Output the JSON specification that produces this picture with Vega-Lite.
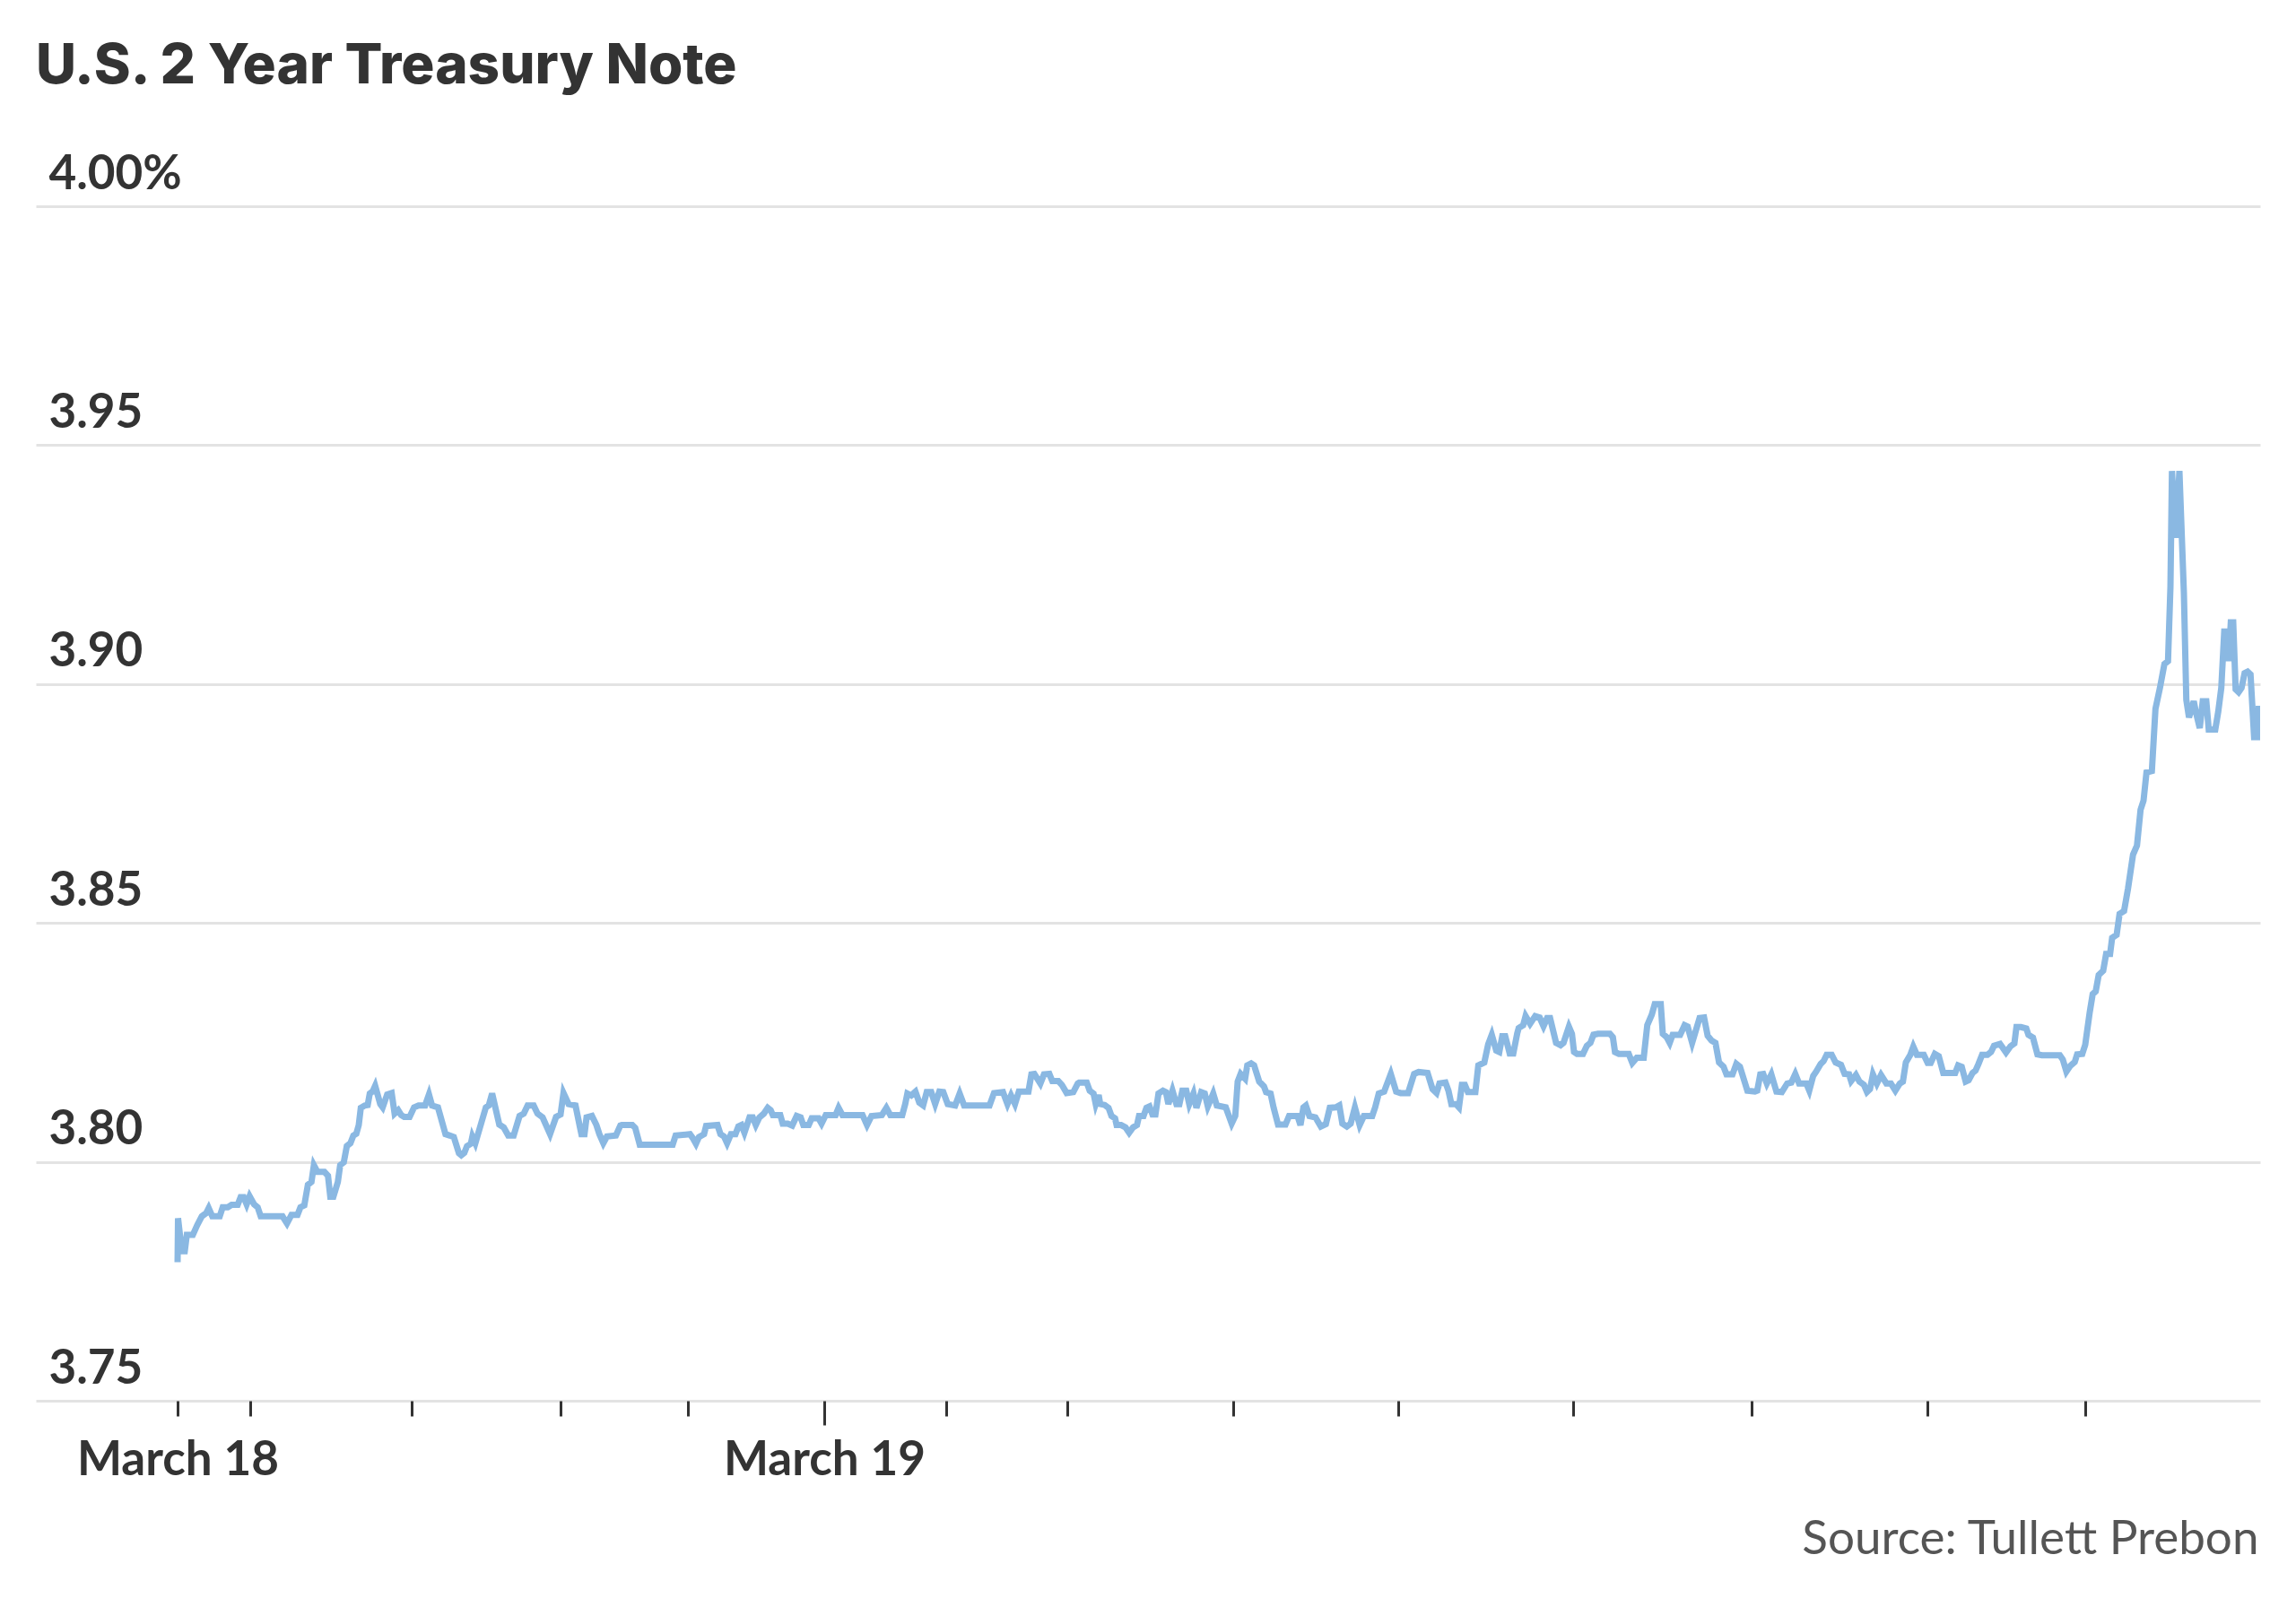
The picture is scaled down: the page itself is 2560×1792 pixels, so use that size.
{
  "$schema": "https://vega.github.io/schema/vega-lite/v6.json",
  "width": 2480,
  "height": 1332,
  "autosize": {"type": "none"},
  "padding": {"left": 40, "top": 230, "right": 40, "bottom": 230},
  "background": "white",
  "title": {
    "text": "U.S. 2 Year Treasury Note",
    "anchor": "start",
    "frame": "group",
    "font": "Inter",
    "fontSize": 62,
    "fontWeight": 800,
    "color": "#333333",
    "offset": 62
  },
  "config": {
    "view": {"stroke": null},
    "axis": {"labelFont": "Lato", "titleFont": "Lato"}
  },
  "data": {
    "values": [
      {"i":0,"v":3.7790},{"i":0.5,"v":3.7882},{"i":4.7,"v":3.7813},{"i":8,"v":3.7813},{"i":10.3,"v":3.7847},{"i":17,"v":3.7847},{"i":22,"v":3.7868},{"i":27,"v":3.7886},{"i":32,"v":3.7893},{"i":34.7,"v":3.7903},{"i":38.7,"v":3.7886},{"i":47,"v":3.7886},{"i":50.3,"v":3.7905},{"i":56,"v":3.7905},{"i":60.3,"v":3.7910},{"i":67,"v":3.7910},{"i":70.3,"v":3.7926},{"i":73.7,"v":3.7926},{"i":77,"v":3.7911},{"i":80.3,"v":3.7928},{"i":85.3,"v":3.7911},{"i":89.3,"v":3.7905},{"i":92.7,"v":3.7886},{"i":117,"v":3.7886},{"i":122,"v":3.7871},{"i":127,"v":3.7889},{"i":133.7,"v":3.7889},{"i":137,"v":3.7905},{"i":141.3,"v":3.7909},{"i":145.3,"v":3.7952},{"i":149.3,"v":3.7958},{"i":152,"v":3.7993},{"i":156,"v":3.7979},{"i":163.7,"v":3.7979},{"i":167.7,"v":3.7971},{"i":170.3,"v":3.7927},{"i":173.7,"v":3.7927},{"i":178.7,"v":3.7958},{"i":181.3,"v":3.7993},{"i":185.3,"v":3.7999},{"i":188.7,"v":3.8033},{"i":192.7,"v":3.8039},{"i":196,"v":3.8055},{"i":199.3,"v":3.8059},{"i":202,"v":3.8077},{"i":204.3,"v":3.8113},{"i":208.7,"v":3.8118},{"i":212,"v":3.8119},{"i":214.3,"v":3.8143},{"i":217.7,"v":3.8148},{"i":220.3,"v":3.8159},{"i":226,"v":3.8121},{"i":228.7,"v":3.8114},{"i":233.7,"v":3.8141},{"i":238.7,"v":3.8144},{"i":242,"v":3.8101},{"i":246,"v":3.8108},{"i":249.3,"v":3.8098},{"i":252.7,"v":3.8094},{"i":258.7,"v":3.8094},{"i":263.7,"v":3.8114},{"i":268.7,"v":3.8118},{"i":276,"v":3.8118},{"i":280.3,"v":3.8141},{"i":283.7,"v":3.8118},{"i":290.3,"v":3.8114},{"i":298.7,"v":3.8058},{"i":303.7,"v":3.8055},{"i":308,"v":3.8052},{"i":313.7,"v":3.8018},{"i":316.3,"v":3.8014},{"i":319.7,"v":3.8019},{"i":322.7,"v":3.8033},{"i":327,"v":3.8038},{"i":328.7,"v":3.8053},{"i":332,"v":3.8039},{"i":343.7,"v":3.8114},{"i":347,"v":3.8118},{"i":350.7,"v":3.8143},{"i":358.7,"v":3.8078},{"i":363.7,"v":3.8072},{"i":368.7,"v":3.8055},{"i":374.7,"v":3.8055},{"i":381.3,"v":3.8096},{"i":386,"v":3.8101},{"i":390.3,"v":3.8118},{"i":397,"v":3.8118},{"i":401.3,"v":3.8101},{"i":407,"v":3.8093},{"i":415.3,"v":3.8058},{"i":422,"v":3.8094},{"i":427,"v":3.8099},{"i":430.3,"v":3.8144},{"i":436,"v":3.8121},{"i":443.7,"v":3.8118},{"i":448.7,"v":3.8072},{"i":450.3,"v":3.8058},{"i":453.7,"v":3.8058},{"i":456,"v":3.8093},{"i":462,"v":3.8096},{"i":467,"v":3.8077},{"i":470.3,"v":3.8058},{"i":474.7,"v":3.8039},{"i":478.7,"v":3.8053},{"i":488.7,"v":3.8055},{"i":493.7,"v":3.8076},
      {"i":495.3,"v":3.8077},{"i":507,"v":3.8077},{"i":510.3,"v":3.8071},{"i":515.3,"v":3.8036},{"i":552,"v":3.8036},{"i":555.3,"v":3.8055},{"i":571.3,"v":3.8058},{"i":574.7,"v":3.8049},{"i":578,"v":3.8038},{"i":581.3,"v":3.8052},{"i":587,"v":3.8058},{"i":589.3,"v":3.8075},{"i":602,"v":3.8077},{"i":605.3,"v":3.8058},{"i":609.3,"v":3.8053},{"i":612.7,"v":3.8039},{"i":617,"v":3.8058},{"i":622,"v":3.8058},{"i":625.3,"v":3.8074},{"i":628.7,"v":3.8077},{"i":632,"v":3.8061},{"i":637.7,"v":3.8093},{"i":641.3,"v":3.8093},{"i":644.7,"v":3.8077},{"i":648.7,"v":3.8093},{"i":653.7,"v":3.8101},{"i":658,"v":3.8113},{"i":661.3,"v":3.8108},{"i":663.7,"v":3.8098},{"i":672,"v":3.8098},{"i":674.7,"v":3.8080},{"i":680.3,"v":3.8080},{"i":685.3,"v":3.8076},{"i":690.3,"v":3.8096},{"i":694.7,"v":3.8093},{"i":697.7,"v":3.8077},{"i":703.7,"v":3.8077},{"i":707,"v":3.8091},{"i":714.7,"v":3.8091},{"i":718,"v":3.8080},{"i":722.7,"v":3.8098},{"i":733.7,"v":3.8098},{"i":737,"v":3.8113},{"i":741.3,"v":3.8098},{"i":763.7,"v":3.8098},{"i":768.7,"v":3.8077},{"i":773.7,"v":3.8096},{"i":785.3,"v":3.8098},{"i":790.3,"v":3.8113},{"i":794.7,"v":3.8098},{"i":808,"v":3.8098},{"i":811.3,"v":3.8121},{"i":813.7,"v":3.8143},{"i":818,"v":3.8139},{"i":822.7,"v":3.8147},{"i":827,"v":3.8124},{"i":831.3,"v":3.8118},{"i":835.3,"v":3.8146},{"i":840.3,"v":3.8146},{"i":844.7,"v":3.8121},{"i":849.3,"v":3.8147},{"i":853.7,"v":3.8146},{"i":858.7,"v":3.8121},{"i":867,"v":3.8118},{"i":872,"v":3.8143},{"i":877,"v":3.8118},{"i":905.3,"v":3.8118},{"i":910.3,"v":3.8144},{"i":920.3,"v":3.8146},{"i":925.3,"v":3.8121},{"i":929.3,"v":3.8139},{"i":933.7,"v":3.8121},{"i":938,"v":3.8147},{"i":948.7,"v":3.8147},{"i":952,"v":3.8183},{"i":955.3,"v":3.8184},{"i":962,"v":3.8164},{"i":966,"v":3.8183},{"i":972,"v":3.8184},{"i":975.3,"v":3.8169},{"i":982,"v":3.8169},{"i":986,"v":3.8161},{"i":991.3,"v":3.8144},{"i":998.7,"v":3.8146},{"i":1003.7,"v":3.8164},
      {"i":1005.3,"v":3.8166},{"i":1013.7,"v":3.8166},{"i":1017,"v":3.8149},{"i":1021.3,"v":3.8143},{"i":1023.7,"v":3.8121},{"i":1027,"v":3.8140},{"i":1028.7,"v":3.8121},{"i":1033.7,"v":3.8119},{"i":1038,"v":3.8113},{"i":1041.3,"v":3.8096},{"i":1045.3,"v":3.8091},{"i":1047,"v":3.8077},{"i":1052,"v":3.8077},{"i":1057,"v":3.8072},{"i":1061,"v":3.8061},{"i":1065.3,"v":3.8072},{"i":1069.7,"v":3.8077},{"i":1072,"v":3.8096},{"i":1077,"v":3.8096},{"i":1080.3,"v":3.8113},{"i":1083.7,"v":3.8116},{"i":1087,"v":3.8099},{"i":1090.3,"v":3.8099},{"i":1093.7,"v":3.8143},{"i":1098.7,"v":3.8149},{"i":1102,"v":3.8146},{"i":1104.7,"v":3.8121},{"i":1109.3,"v":3.8149},{"i":1113.7,"v":3.8121},{"i":1117,"v":3.8121},{"i":1120.3,"v":3.8149},{"i":1124.7,"v":3.8149},{"i":1128,"v":3.8121},{"i":1132.7,"v":3.8143},{"i":1136,"v":3.8113},{"i":1141.3,"v":3.8146},{"i":1145.3,"v":3.8143},{"i":1148.7,"v":3.8116},{"i":1154.7,"v":3.8143},{"i":1158.7,"v":3.8118},{"i":1168.7,"v":3.8114},{"i":1175.3,"v":3.8080},{"i":1179.3,"v":3.8096},{"i":1182,"v":3.8168},{"i":1185.3,"v":3.8184},{"i":1190.3,"v":3.8174},{"i":1192.7,"v":3.8202},{"i":1197,"v":3.8206},{"i":1200.3,"v":3.8202},{"i":1206,"v":3.8168},{"i":1211.3,"v":3.8158},{"i":1213.7,"v":3.8146},{"i":1218.7,"v":3.8143},{"i":1222,"v":3.8114},{"i":1227,"v":3.8078},{"i":1235.3,"v":3.8078},{"i":1239.3,"v":3.8096},{"i":1248.7,"v":3.8096},{"i":1252,"v":3.8077},{"i":1255.3,"v":3.8114},{"i":1258,"v":3.8118},{"i":1262,"v":3.8096},{"i":1268.7,"v":3.8093},{"i":1274.7,"v":3.8074},{"i":1280.3,"v":3.8079},{"i":1284.7,"v":3.8113},{"i":1291.3,"v":3.8114},{"i":1295.3,"v":3.8118},{"i":1298.7,"v":3.8080},{"i":1303.7,"v":3.8074},{"i":1308,"v":3.8080},{"i":1312.7,"v":3.8114},{"i":1318,"v":3.8077},{"i":1322.7,"v":3.8096},{"i":1332,"v":3.8096},{"i":1335.3,"v":3.8114},{"i":1339.3,"v":3.8143},{"i":1345.3,"v":3.8147},{"i":1352.7,"v":3.8184},{"i":1358.7,"v":3.8147},{"i":1363.7,"v":3.8144},{"i":1372,"v":3.8144},{"i":1378.7,"v":3.8184},{"i":1383.7,"v":3.8188},{"i":1393.7,"v":3.8186},{"i":1399.3,"v":3.8152},{"i":1403.7,"v":3.8144},{"i":1407,"v":3.8164},{"i":1413.7,"v":3.8166},{"i":1417,"v":3.8149},{"i":1420.3,"v":3.8121},{"i":1425.3,"v":3.8121},{"i":1428.7,"v":3.8114},{"i":1432,"v":3.8161},{"i":1435.3,"v":3.8161},{"i":1438.7,"v":3.8146},{"i":1447,"v":3.8146},{"i":1450.3,"v":3.8202},{"i":1457,"v":3.8208},{"i":1461.3,"v":3.8246},{"i":1465.3,"v":3.8266},{"i":1470.3,"v":3.8233},{"i":1473.7,"v":3.8230},{"i":1477,"v":3.8263},{"i":1480.3,"v":3.8263},{"i":1485.3,"v":3.8227},{"i":1489.3,"v":3.8227},{"i":1493.7,"v":3.8269},{"i":1495.3,"v":3.8280},{"i":1500.3,"v":3.8286},{"i":1503,"v":3.8305},{"i":1508,"v":3.8289},{"i":1513.7,"v":3.8305},{"i":1518.7,"v":3.8302},
      {"i":1523,"v":3.8284},{"i":1527,"v":3.8301},{"i":1530.3,"v":3.8301},{"i":1537,"v":3.8249},{"i":1542,"v":3.8244},{"i":1545.3,"v":3.8249},{"i":1551.3,"v":3.8283},{"i":1554.7,"v":3.8268},{"i":1557,"v":3.8230},{"i":1560.3,"v":3.8226},{"i":1567,"v":3.8226},{"i":1571.3,"v":3.8243},{"i":1575.3,"v":3.8249},{"i":1578.7,"v":3.8266},{"i":1583.7,"v":3.8268},{"i":1597,"v":3.8268},{"i":1600.3,"v":3.8261},{"i":1602.7,"v":3.8230},{"i":1607,"v":3.8226},{"i":1618,"v":3.8226},{"i":1622,"v":3.8207},{"i":1627,"v":3.8218},{"i":1634.7,"v":3.8218},{"i":1638.7,"v":3.8286},{"i":1643.7,"v":3.8308},{"i":1647,"v":3.8330},{"i":1653.7,"v":3.8330},{"i":1656,"v":3.8268},{"i":1660.3,"v":3.8261},{"i":1663.7,"v":3.8249},{"i":1667,"v":3.8266},{"i":1675.3,"v":3.8266},{"i":1680.3,"v":3.8286},{"i":1683.7,"v":3.8283},{"i":1688.7,"v":3.8249},{"i":1697,"v":3.8301},{"i":1702,"v":3.8302},{"i":1706,"v":3.8264},{"i":1710.3,"v":3.8254},{"i":1714.7,"v":3.8249},{"i":1718.7,"v":3.8208},{"i":1723.7,"v":3.8199},{"i":1727,"v":3.8183},{"i":1733.7,"v":3.8183},{"i":1738,"v":3.8205},{"i":1742,"v":3.8199},{"i":1750.3,"v":3.8149},{"i":1758.7,"v":3.8147},{"i":1761.3,"v":3.8149},{"i":1764.7,"v":3.8183},{"i":1768,"v":3.8184},{"i":1772,"v":3.8164},{"i":1777,"v":3.8183},{"i":1782.7,"v":3.8147},{"i":1788.7,"v":3.8146},{"i":1794.7,"v":3.8164},{"i":1799.3,"v":3.8166},{"i":1803.7,"v":3.8184},{"i":1808,"v":3.8164},{"i":1816,"v":3.8164},{"i":1819.3,"v":3.8149},{"i":1823.7,"v":3.8180},{"i":1827,"v":3.8189},{"i":1832,"v":3.8205},{"i":1835.3,"v":3.8211},{"i":1838.7,"v":3.8224},{"i":1844.3,"v":3.8224},{"i":1848.7,"v":3.8208},{"i":1854.7,"v":3.8203},{"i":1858.7,"v":3.8184},{"i":1863.7,"v":3.8183},{"i":1866,"v":3.8169},{"i":1871.3,"v":3.8182},{"i":1875.3,"v":3.8168},{"i":1880.3,"v":3.8161},{"i":1883.7,"v":3.8146},{"i":1887,"v":3.8152},{"i":1890.3,"v":3.8183},{"i":1894.7,"v":3.8164},{"i":1899.3,"v":3.8182},{"i":1905.3,"v":3.8164},{"i":1910.3,"v":3.8164},{"i":1915.3,"v":3.8149},{"i":1920.3,"v":3.8164},{"i":1923.7,"v":3.8168},{"i":1927,"v":3.8208},{"i":1932,"v":3.8224},{"i":1935.3,"v":3.8241},{"i":1939.3,"v":3.8224},{"i":1947,"v":3.8224},{"i":1951.3,"v":3.8207},{"i":1954.7,"v":3.8207},{"i":1959.3,"v":3.8226},{"i":1963.7,"v":3.8221},{"i":1968.7,"v":3.8186},{"i":1982,"v":3.8186},{"i":1985.3,"v":3.8202},{"i":1989.3,"v":3.8199},{"i":1993.7,"v":3.8168},{"i":1997,"v":3.8171},{"i":2001.3,"v":3.8186},{"i":2004.7,"v":3.8191},{"i":2008,"v":3.8205},{"i":2012,"v":3.8224},{"i":2018,"v":3.8224},{"i":2022,"v":3.8230},{"i":2025.3,"v":3.8243},{"i":2032,"v":3.8247},
      {"i":2038.7,"v":3.8229},{"i":2043.7,"v":3.8242},{"i":2048,"v":3.8248},{"i":2050.3,"v":3.8282},{"i":2055.3,"v":3.8282},{"i":2061.3,"v":3.8279},{"i":2063.7,"v":3.8266},{"i":2068.7,"v":3.8260},{"i":2073.7,"v":3.8225},{"i":2078.7,"v":3.8223},{"i":2098.7,"v":3.8223},{"i":2102,"v":3.8214},{"i":2106,"v":3.8189},{"i":2110.3,"v":3.8201},{"i":2115.3,"v":3.8209},{"i":2118,"v":3.8225},{"i":2123.7,"v":3.8226},{"i":2127,"v":3.8245},{"i":2132,"v":3.8313},{"i":2135.3,"v":3.8351},{"i":2138.7,"v":3.8357},{"i":2142,"v":3.8391},{"i":2147,"v":3.8400},{"i":2150.3,"v":3.8435},{"i":2154.7,"v":3.8435},{"i":2157,"v":3.8469},{"i":2162,"v":3.8475},{"i":2165.3,"v":3.8519},{"i":2170.3,"v":3.8525},{"i":2174.7,"v":3.8572},{"i":2180.3,"v":3.8643},{"i":2184.7,"v":3.8662},{"i":2188.7,"v":3.8737},{"i":2192,"v":3.8756},{"i":2195.3,"v":3.8815},{"i":2201.3,"v":3.8818},{"i":2205.3,"v":3.8948},{"i":2210.3,"v":3.8992},{"i":2215.3,"v":3.9042},{"i":2219.3,"v":3.9048},{"i":2222,"v":3.9203},{"i":2223.7,"v":3.9446},{"i":2228,"v":3.9306},{"i":2232,"v":3.9446},{"i":2237,"v":3.9191},{"i":2239.7,"v":3.8967},{"i":2242.7,"v":3.8930},{"i":2248,"v":3.8964},{"i":2250.3,"v":3.8942},{"i":2254.7,"v":3.8908},{"i":2258,"v":3.8964},{"i":2262,"v":3.8964},{"i":2264.7,"v":3.8905},{"i":2272,"v":3.8905},{"i":2275.3,"v":3.8942},{"i":2278.7,"v":3.8992},{"i":2282,"v":3.9110},{"i":2285.3,"v":3.9110},{"i":2287,"v":3.9048},{"i":2289.3,"v":3.9129},{"i":2292,"v":3.9129},{"i":2294.7,"v":3.8989},{"i":2298,"v":3.8983},{"i":2301.3,"v":3.8992},{"i":2304.7,"v":3.9023},{"i":2308,"v":3.9026},{"i":2311.3,"v":3.9020},{"i":2315.3,"v":3.8889},{"i":2318.7,"v":3.8889},{"i":2320.3,"v":3.8948},{"i":2322,"v":3.8948}
    ]
  },
  "mark": {"type": "line", "color": "#8ab8e2", "strokeWidth": 7, "clip": true},
  "encoding": {
    "x": {
      "field": "i",
      "type": "quantitative",
      "sort": null,
      "scale": {"domain": [-158, 2322], "nice": false, "zero": false},
      "axis": {
        "values": [0, 81, 261, 427, 569, 721, 857, 992, 1177, 1361, 1556, 1755, 1951, 2127],
        "labelExpr": "datum.value == 0 ? 'March 18' : datum.value == 721 ? 'March 19' : ''",
        "grid": false,
        "domain": false,
        "ticks": true,
        "tickColor": "#333333",
        "tickWidth": 3,
        "tickSize": {"condition": {"test": "datum.value == 721", "value": 27}, "value": 17},
        "labelFontSize": 53,
        "labelFontWeight": "bold",
        "labelColor": "#333333",
        "labelBaseline": "alphabetic",
        "labelPadding": {"condition": {"test": "datum.value == 721", "value": 55}, "value": 65},
        "labelLimit": 0,
        "labelOverlap": false,
        "labelFlush": false,
        "title": "Source: Tullett Prebon",
        "titleFontSize": 53,
        "titleFontWeight": "normal",
        "titleColor": "#555555",
        "titleAlign": "right",
        "titleBaseline": "alphabetic",
        "titleX": 2478,
        "titleY": 170
      }
    },
    "y": {
      "field": "v",
      "type": "quantitative",
      "scale": {"domain": [3.75, 4.0], "nice": false, "zero": false},
      "axis": {
        "values": [3.75, 3.8, 3.85, 3.9, 3.95, 4.0],
        "labelExpr": "datum.value >= 3.999 ? '4.00%' : format(datum.value, '.2f')",
        "grid": true,
        "gridColor": "#e3e3e3",
        "gridWidth": 3,
        "domain": false,
        "ticks": false,
        "tickSize": 0,
        "labelAlign": "left",
        "labelBaseline": "alphabetic",
        "labelPadding": -14,
        "labelOffset": -20,
        "labelFontSize": 53,
        "labelFontWeight": "bold",
        "labelColor": "#333333",
        "labelOverlap": false,
        "labelFlush": false,
        "title": null
      }
    }
  }
}
